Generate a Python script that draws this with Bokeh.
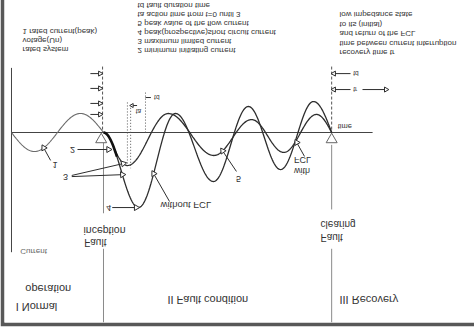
import numpy as np
from bokeh.plotting import figure
from bokeh.models import Range1d
from bokeh.core.properties import value
from bokeh.embed import file_html
from bokeh.resources import INLINE

# ---------------- data (time in ms, current in p.u. of rated peak) ----------------
normal_t = [-20, -15, -10, -5, 0]
normal_i = [0, 1.0, 0, -1.0, 0]
normal_kind = "zezez"

# prospective (without FCL) current: extrema
prosp_t = [0, 7.6, 15.65, 23.9, 31.5, 38.5, 45.65, 49.6]
prosp_i = [0, 3.95, -1.0, 2.58, -1.37, 1.95, -1.63, 0]
prosp_kind = "eeeeeeez"

# limited (with FCL) current: leaves the prospective curve at the initiating current
fcl_split = 2.4
fcl_t = [5.2, 14.1, 24.0, 32.2, 39.2, 46.3, 49.6]
fcl_i = [1.74, -1.0, 1.21, -0.68, 1.05, -0.95, 0]
fcl_kind = "eeeeeez"

t_inception = 0.0
t_clearing = 49.6

legend_left = ["rated system", "votage(Un)", "1 rated current(peak)"]
legend_mid = ["2 minimum initiating current", "3 maximum limited current",
              "4 peak(prospective)short circuit current", "5 peak value of the flow current",
              "ta action time from t=0 until 3", "td fault duration time"]
legend_right = ["recovery time tr", "time between current interruption",
                "and return of the FCL", "to its (initial)", "low impedance state"]
phase_labels = ["I   Normal", "operation", "II Fault condition", "III  Recovery"]
event_labels = ["Fault", "inception", "Fault", "clearing"]
point_labels = ["1", "2", "3", "4", "5", "without FCL", "with", "FCL"]

# ---------------- helpers ----------------
PX_T, PX_I = 4.6, 19.0


def build(ts, vs, kinds, n=40):
    xs, ys = [ts[0]], [vs[0]]
    for k in range(len(ts) - 1):
        t0, t1, v0, v1 = ts[k], ts[k + 1], vs[k], vs[k + 1]
        u = np.linspace(0, 1, n)[1:]
        a, b = kinds[k], kinds[k + 1]
        if a == "e" and b == "e":
            f = (1 - np.cos(np.pi * u)) / 2
        elif a == "z" and b == "e":
            f = np.sin(np.pi / 2 * u)
        elif a == "e" and b == "z":
            f = 1 - np.cos(np.pi / 2 * u)
        else:
            f = u
        xs += list(t0 + (t1 - t0) * u)
        ys += list(v0 + (v1 - v0) * f)
    return np.array(xs), np.array(ys)


p = figure(width=474, height=327, x_range=Range1d(-21.52, 80.65), y_range=Range1d(-7.0, 10.0),
           output_backend="svg", toolbar_location=None, x_axis_location=None, y_axis_location=None,
           min_border=0, min_border_left=4, min_border_top=4, border_fill_color="#585858",
           background_fill_color="white", outline_line_color=None)
p.grid.visible = False
# the reference picture is a vertically mirrored scan
p.styles = {"transform": "scaleY(-1)"}

INK = "#2e2e2e"
GREY = "#8a8a8a"
FONT = value("Liberation Sans")


def arrow(x0, y0, x1, y1, color=INK, size=6):
    p.segment(x0, y0, x1, y1, line_color=color, line_width=1)
    ang = np.arctan2((y1 - y0) * PX_I, (x1 - x0) * PX_T) - np.pi / 2
    p.scatter([x1], [y1], marker="triangle", size=size, angle=ang,
              line_color=color, fill_color="white", line_width=1)


def label(x, y, txt, size="8px", color="#333", align="left"):
    p.text([x], [y], text=[txt], text_font=FONT, text_font_size=size, text_color=color,
           text_align=align, text_baseline="middle")


# curves
nx, ny = build(normal_t, normal_i, normal_kind)
px_, py_ = build(prosp_t, prosp_i, prosp_kind)
split_i = float(np.interp(fcl_split, px_, py_))
fx, fy = build([fcl_split] + fcl_t, [split_i] + fcl_i, "z" + fcl_kind)


def on(cx, cy, t):
    return float(np.interp(t, cx, cy))


# axes of the diagram
p.segment(-20, -3.4, -20, 6.3, line_color="#444", line_width=1)
p.segment(-20, 0, 58.5, 0, line_color="#444", line_width=1)
label(50.9, -0.32, "time", size="7.5px")
label(-18.1, 6.26, "Current", size="8px", color="#666")

# event lines
for tt, a0, a1 in [(t_inception, 0.55, 4.25), (t_clearing, 0.65, 4.05)]:
    p.segment(tt, a0, tt, a1, line_color=GREY, line_width=1)
    p.segment(tt, 6.12, tt, 10.0, line_color=GREY, line_width=1)
p.scatter([t_inception - 0.5, t_clearing], [0.37, 0.37], marker="inverted_triangle", size=11,
          line_color="#666", fill_color="white")

# dashed / dotted time markers
p.segment([t_inception - 0.2, t_clearing], [-3.47, -3.47], [t_inception - 0.2, t_clearing], [0, 0],
          line_color="#555", line_dash="3 2", line_width=1)
p.segment([5.2, 5.9, 9.13], [-1.58, -1.3, -2.1], [5.2, 5.9, 9.13], [on(fx, fy, 5.2), 1.88, 0],
          line_color="#555", line_dash="1 2", line_width=1)
for yy in [-3.1, -2.32, -1.53, -0.95]:
    arrow(-2.85, yy, -0.75, yy, size=5)
arrow(7.3, -1.42, 6.2, -1.42, size=4)
p.segment(9.13, -1.84, 10.3, -1.84, line_color=INK)
label(7.0, -1.08, "ta", size="6.5px")
label(11.0, -1.84, "td", size="6.5px")
arrow(53.7, -3.1, 50.1, -3.1, size=5)
arrow(53.7, -2.26, 50.1, -2.26, size=5)
arrow(56.3, -2.26, 61.4, -2.26, size=5)
label(54.3, -3.1, "td", size="6.5px")
label(54.3, -2.26, "tr", size="6.5px")

# draw curves
p.line(nx, ny, line_color="#6a6a6a", line_width=1.1)
p.line(px_, py_, line_color=INK, line_width=1.3)
p.line(fx, fy, line_color=INK, line_width=1.3)
m = px_ <= fcl_split + 0.6
p.line(px_[m], py_[m], line_color="#111", line_width=2.6)

# numbered pointers (tips sit on the curves)
arrow(-11.5, 1.47, -13.0, on(nx, ny, -13.0))
label(-11.1, 1.72, point_labels[0], size="9px")
arrow(-5.65, split_i, fcl_split - 1.3, split_i)
label(-7.3, split_i, point_labels[1], size="9px")
arrow(-6.9, 2.26, 4.3, on(fx, fy, 4.3))
arrow(-6.9, 2.32, 4.1, on(px_, py_, 4.1))
label(-8.8, 2.32, point_labels[2], size="9px")
arrow(1.9, prosp_i[1], 7.1, prosp_i[1])
label(0.6, prosp_i[1], point_labels[3], size="9px")
arrow(14.35, 3.63, 10.9, on(px_, py_, 10.9))
label(12.4, 3.84, point_labels[5], size="9.5px")
arrow(28.9, 2.05, 25.9, on(fx, fy, 25.9))
label(28.8, 2.47, point_labels[4], size="9px")
arrow(43.7, 1.26, 42.0, on(fx, fy, 42.0) + 0.15)
label(41.4, 2.0, point_labels[6], size="9px")
label(41.4, 1.47, point_labels[7], size="9px")

# event / phase labels
label(-4.2, 5.79, event_labels[0], size="10px")
label(-4.35, 5.16, event_labels[1], size="10.5px")
label(47.2, 5.53, event_labels[2], size="10px")
label(47.2, 4.84, event_labels[3], size="10px")
label(-19.1, 9.16, phase_labels[0], size="11px")
label(-17.0, 8.26, phase_labels[1], size="11px")
label(13.9, 8.84, phase_labels[2], size="11px")
label(51.3, 8.79, phase_labels[3], size="11px")

# text blocks
for k, s in enumerate(legend_left):
    label(-17.6, -4.37 - 0.475 * k, s)
for k, s in enumerate(legend_mid):
    label(7.4, -4.32 - 0.472 * k, s)
for k, s in enumerate(legend_right):
    label(51.3, -4.21 - 0.5 * k, s)

open("out.html", "w").write(file_html(p, INLINE))
